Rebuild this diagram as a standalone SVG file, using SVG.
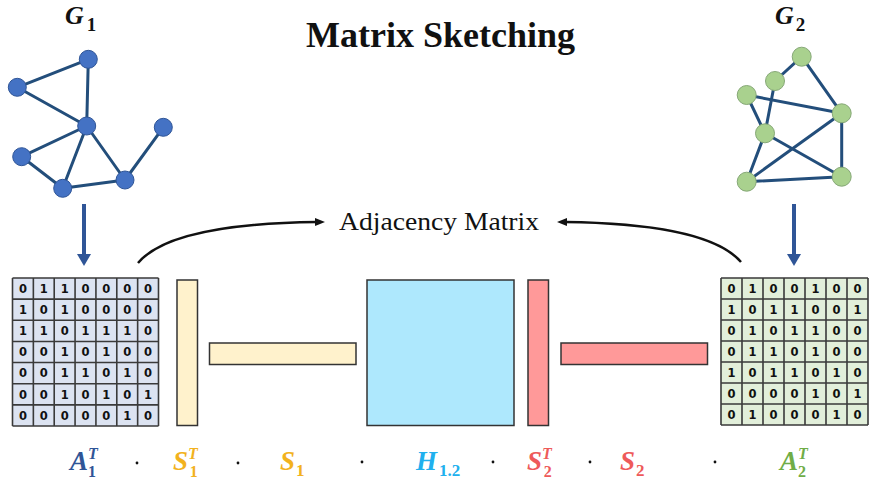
<svg xmlns="http://www.w3.org/2000/svg" width="880" height="481" viewBox="0 0 880 481">
<style>
.edge{stroke:#234E7B;stroke-width:3;fill:none;stroke-linecap:round}
.n1{fill:#4472C4;stroke:#2F5597;stroke-width:1}
.n2{fill:#A9D18E;stroke:#86A877;stroke-width:1}
.grid{fill:none;stroke:#3A3A3A;stroke-width:1.6}
.dig{font-family:"DejaVu Sans",sans-serif;font-weight:bold;font-size:11.5px;text-anchor:middle;fill:#111}
.bar{stroke:#333;stroke-width:1.5}
.math{font-family:"Liberation Serif",serif;font-weight:bold;font-style:italic}
.up{font-style:normal}
.dot{fill:#111}
.arc{stroke:#111;stroke-width:2.5;fill:none}
.down{stroke:#2F5597;stroke-width:4}
</style>
<defs>
<marker id="hd" viewBox="0 0 12 14" refX="0" refY="7" markerWidth="12" markerHeight="14" markerUnits="userSpaceOnUse" orient="auto"><path d="M0,0 L12,7 L0,14 z" fill="#2F5597"/></marker>
<marker id="ha" viewBox="0 0 10 8" refX="2" refY="4" markerWidth="10" markerHeight="8" markerUnits="userSpaceOnUse" orient="auto"><path d="M0,0 L10,4 L0,8 z" fill="#111"/></marker>
</defs>
<rect width="880" height="481" fill="#fff"/>

<g id="title"><text x="440.5" y="47" font-family="Liberation Serif,serif" font-weight="bold" font-size="36" text-anchor="middle" fill="#111">Matrix Sketching</text></g>

<g id="connectors">
<g id="g1-edges">
<line class="edge" x1="88.3" y1="59.3" x2="17.3" y2="87.3"/>
<line class="edge" x1="88.3" y1="59.3" x2="86.7" y2="126"/>
<line class="edge" x1="17.3" y1="87.3" x2="86.7" y2="126"/>
<line class="edge" x1="86.7" y1="126" x2="21.7" y2="156.7"/>
<line class="edge" x1="86.7" y1="126" x2="62.7" y2="188.3"/>
<line class="edge" x1="86.7" y1="126" x2="125" y2="180"/>
<line class="edge" x1="21.7" y1="156.7" x2="62.7" y2="188.3"/>
<line class="edge" x1="62.7" y1="188.3" x2="125" y2="180"/>
<line class="edge" x1="125" y1="180" x2="163.3" y2="127.3"/>
</g>
<g id="g2-edges">
<line class="edge" x1="801.7" y1="56.7" x2="775" y2="81"/>
<line class="edge" x1="801.7" y1="56.7" x2="841.7" y2="113.3"/>
<line class="edge" x1="775" y1="81" x2="765" y2="133.3"/>
<line class="edge" x1="746.7" y1="95" x2="841.7" y2="113.3"/>
<line class="edge" x1="746.7" y1="95" x2="765" y2="133.3"/>
<line class="edge" x1="765" y1="133.3" x2="746.7" y2="181.7"/>
<line class="edge" x1="765" y1="133.3" x2="841.7" y2="176.7"/>
<line class="edge" x1="746.7" y1="181.7" x2="841.7" y2="113.3"/>
<line class="edge" x1="841.7" y1="113.3" x2="841.7" y2="176.7"/>
<line class="edge" x1="746.7" y1="181.7" x2="841.7" y2="176.7"/>
</g>
<line class="down" x1="84" y1="204" x2="84" y2="254" marker-end="url(#hd)"/>
<line class="down" x1="794" y1="204" x2="794" y2="254" marker-end="url(#hd)"/>
<path class="arc" d="M138,263 C163,233 233,223 317,222" marker-end="url(#ha)"/>
<path class="arc" d="M741,262 C716,233 646,223 565,222" marker-end="url(#ha)"/>
</g>

<g id="G1">
<text class="math" x="65" y="24" font-size="26" fill="#111">G<tspan class="up" font-size="19" dx="3" dy="7">1</tspan></text>
<circle class="n1" cx="88.3" cy="59.3" r="9"/>
<circle class="n1" cx="17.3" cy="87.3" r="9"/>
<circle class="n1" cx="86.7" cy="126" r="9"/>
<circle class="n1" cx="163.3" cy="127.3" r="9"/>
<circle class="n1" cx="21.7" cy="156.7" r="9"/>
<circle class="n1" cx="62.7" cy="188.3" r="9"/>
<circle class="n1" cx="125" cy="180" r="9"/>
</g>

<g id="G2">
<text class="math" x="775" y="24" font-size="26" fill="#111">G<tspan class="up" font-size="19" dx="2" dy="7">2</tspan></text>
<circle class="n2" cx="801.7" cy="56.7" r="9.5"/>
<circle class="n2" cx="775" cy="81" r="9.5"/>
<circle class="n2" cx="746.7" cy="95" r="9.5"/>
<circle class="n2" cx="841.7" cy="113.3" r="9.5"/>
<circle class="n2" cx="765" cy="133.3" r="9.5"/>
<circle class="n2" cx="746.7" cy="181.7" r="9.5"/>
<circle class="n2" cx="841.7" cy="176.7" r="9.5"/>
</g>

<g id="adjacency-label"><text x="339" y="230" font-family="Liberation Serif,serif" font-size="26" textLength="200" lengthAdjust="spacingAndGlyphs" fill="#111">Adjacency Matrix</text></g>

<g id="A1">
<rect x="12.5" y="278" width="146" height="148" fill="#DCE3F1"/>
<path class="grid" d="M12.5,278V426M33.36,278V426M54.21,278V426M75.07,278V426M95.93,278V426M116.79,278V426M137.64,278V426M158.5,278V426M12.5,278H158.5M12.5,299.14H158.5M12.5,320.29H158.5M12.5,341.43H158.5M12.5,362.57H158.5M12.5,383.71H158.5M12.5,404.86H158.5M12.5,426H158.5"/>
<text class="dig" x="22.93 43.79 64.64 85.5 106.36 127.21 148.07" y="292.8">0110000</text>
<text class="dig" x="22.93 43.79 64.64 85.5 106.36 127.21 148.07" y="313.9">1010000</text>
<text class="dig" x="22.93 43.79 64.64 85.5 106.36 127.21 148.07" y="335.1">1101110</text>
<text class="dig" x="22.93 43.79 64.64 85.5 106.36 127.21 148.07" y="356.2">0010100</text>
<text class="dig" x="22.93 43.79 64.64 85.5 106.36 127.21 148.07" y="377.3">0011010</text>
<text class="dig" x="22.93 43.79 64.64 85.5 106.36 127.21 148.07" y="398.5">0010101</text>
<text class="dig" x="22.93 43.79 64.64 85.5 106.36 127.21 148.07" y="419.6">0000010</text>
</g>

<g id="A2">
<rect x="721" y="278" width="147" height="147" fill="#E2EFDA"/>
<path class="grid" d="M721,278V425M742,278V425M763,278V425M784,278V425M805,278V425M826,278V425M847,278V425M868,278V425M721,278H868M721,299H868M721,320H868M721,341H868M721,362H868M721,383H868M721,404H868M721,425H868"/>
<text class="dig" x="731.5 752.5 773.5 794.5 815.5 836.5 857.5" y="292.7">0100100</text>
<text class="dig" x="731.5 752.5 773.5 794.5 815.5 836.5 857.5" y="313.7">1011001</text>
<text class="dig" x="731.5 752.5 773.5 794.5 815.5 836.5 857.5" y="334.7">0101100</text>
<text class="dig" x="731.5 752.5 773.5 794.5 815.5 836.5 857.5" y="355.7">0110100</text>
<text class="dig" x="731.5 752.5 773.5 794.5 815.5 836.5 857.5" y="376.7">1011010</text>
<text class="dig" x="731.5 752.5 773.5 794.5 815.5 836.5 857.5" y="397.7">0000101</text>
<text class="dig" x="731.5 752.5 773.5 794.5 815.5 836.5 857.5" y="418.7">0100010</text>
</g>

<g id="S1T"><rect class="bar" x="177" y="280" width="20.5" height="145.5" fill="#FFF2CC"/></g>
<g id="S1"><rect class="bar" x="209.5" y="343" width="146.5" height="21.5" fill="#FFF2CC"/></g>
<g id="H12"><rect class="bar" x="367" y="280" width="147" height="145.5" fill="#AEE8FD"/></g>
<g id="S2T"><rect class="bar" x="528" y="280" width="20.5" height="145.5" fill="#FF9999"/></g>
<g id="S2"><rect class="bar" x="561" y="343" width="146.5" height="21.5" fill="#FF9999"/></g>

<g id="formula">
<text class="math" x="70" y="470" font-size="27" fill="#2F5597">A<tspan font-size="16" dy="-11">T</tspan><tspan class="up" font-size="16" dx="-9.8" dy="18">1</tspan></text>
<circle class="dot" cx="137" cy="463" r="1.4"/>
<text class="math" x="173" y="470" font-size="27" fill="#F2B21E">S<tspan font-size="16" dy="-11">T</tspan><tspan class="up" font-size="16" dx="-8" dy="18">1</tspan></text>
<circle class="dot" cx="238" cy="463" r="1.4"/>
<text class="math" x="280" y="470" font-size="27" fill="#F2B21E">S<tspan class="up" font-size="17" dx="1" dy="6">1</tspan></text>
<circle class="dot" cx="362" cy="462" r="1.4"/>
<text class="math" x="416" y="470" font-size="27" fill="#20B0EE">H<tspan class="up" font-size="17" dx="2" dy="6">1.2</tspan></text>
<circle class="dot" cx="493" cy="462" r="1.4"/>
<text class="math" x="527" y="470" font-size="27" fill="#EE5A5A">S<tspan font-size="16" dy="-11">T</tspan><tspan class="up" font-size="16" dx="-8" dy="18">2</tspan></text>
<circle class="dot" cx="590" cy="462" r="1.4"/>
<text class="math" x="620" y="470" font-size="27" fill="#EE5A5A">S<tspan class="up" font-size="17" dx="1" dy="6">2</tspan></text>
<circle class="dot" cx="715" cy="462" r="1.4"/>
<text class="math" x="780" y="470" font-size="27" fill="#70AD47">A<tspan font-size="16" dy="-11">T</tspan><tspan class="up" font-size="16" dx="-9.8" dy="18">2</tspan></text>
</g>
</svg>
